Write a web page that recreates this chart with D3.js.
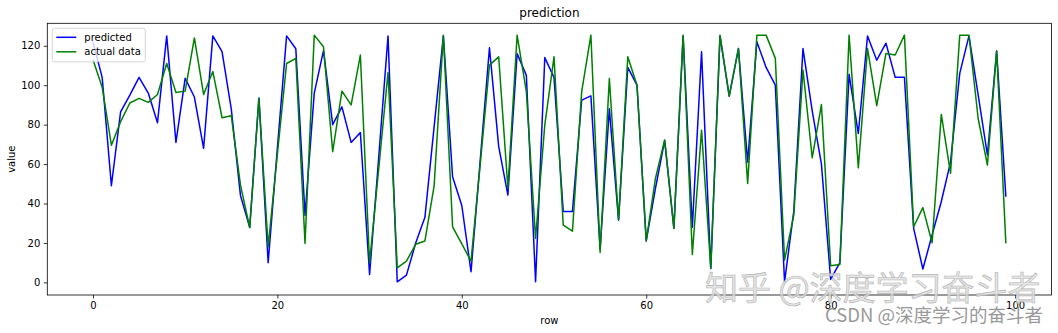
<!DOCTYPE html>
<html>
<head>
<meta charset="utf-8">
<script src="https://cdn.jsdelivr.net/npm/d3@7"></script>
<style>
  body { margin: 0; background: #fff; }
  text { font-family: "DejaVu Sans", sans-serif; }
</style>
</head>
<body>
<div id="chart"></div>
<script>
// values, one per row 0..99
var predicted = [122, 104, 49, 86.5, 95, 104, 96, 81, 125, 71,
    103.5, 94, 68, 125, 117, 88, 44, 28, 93.5, 10,
    68, 125, 118.5, 34, 96, 117.5, 80, 89, 71, 76,
    4, 64, 125, 0.3, 3.7, 20, 33, 79, 125, 53.6,
    39, 5.4, 62, 119, 69, 44.3, 116, 105, 0.3, 114,
    104, 36, 36, 92.4, 94.6, 17, 88, 31.6, 109, 100,
    21, 47.7, 72, 27.4, 125, 28, 117, 7, 125, 94.5,
    118.6, 61, 122, 109, 100, 0.3, 36, 118.6, 87, 60,
    1.5, 10, 105.5, 75.5, 125, 112.7, 121.3, 104, 104, 27.4,
    6.8, 24, 41, 61, 106, 125, 95, 64.6, 117.3, 43.4];

var actual = [113, 99, 69.6, 81.5, 91, 93.3, 91.3, 95.3, 111, 96.3,
    97, 124, 95.3, 107, 83.5, 84.5, 49.3, 27.7, 93.3, 18,
    65, 111, 113.6, 19.8, 125.4, 119.5, 66.3, 97, 90, 115.3,
    10, 58, 106.5, 7.4, 10.8, 19.3, 21, 49, 125.4, 28.2,
    19.5, 10.8, 60, 110.2, 114.4, 47.7, 125.4, 96.7, 22.3, 79.8,
    114.4, 29, 26, 96.7, 125.4, 15.2, 103.4, 31.6, 114.4, 100,
    21, 52.7, 72.2, 27.4, 125.4, 14.2, 77.2, 7.1, 125.4, 94.5,
    118.6, 50.2, 125.4, 125.4, 113.6, 11.3, 34, 107.7, 63.2, 90.2,
    8.4, 9.1, 125.4, 58.1, 118.6, 89.6, 116.1, 115.3, 125.4, 28.2,
    37.9, 20.1, 85.2, 55.3, 125.4, 125.4, 83, 59.5, 117.3, 19.8];

var xTicks = [0, 20, 40, 60, 80, 100];
var yTicks = [0, 20, 40, 60, 80, 100, 120];

var series = [
    {name: "predicted", color: "blue", values: predicted},
    {name: "actual data", color: "green", values: actual}
];

var width = 1058, height = 333;
var plotLeft = 47.3, plotRight = 1051.5, plotTop = 23.3, plotBottom = 295;

var svg = d3.select("#chart")
    .append("svg")
    .attr("width", width)
    .attr("height", height);

var xScale = d3.scaleLinear()
    .domain([-4.95, 103.95])
    .range([plotLeft, plotRight]);

var yScale = d3.scaleLinear()
    .domain([-6.4, 131.4])
    .range([plotBottom, plotTop]);

/* lines */
var line = d3.line()
    .x((d, i) => xScale(i))
    .y(d => yScale(d));

svg.append("g")
    .selectAll("path")
    .data(series)
    .join("path")
    .attr("d", d => line(d.values))
    .attr("fill", "none")
    .attr("stroke", d => d.color)
    .attr("stroke-width", 1.5)
    .attr("stroke-linejoin", "round");

/* axes */
var xAxis = d3.axisBottom(xScale)
    .tickValues(xTicks)
    .tickSize(3.5)
    .tickPadding(3.5)
    .tickFormat(d3.format("d"));
svg.append("g")
    .attr("class", "xAxis")
    .attr("transform", `translate(0, ${plotBottom})`)
    .call(xAxis)
    .call(g => g.select(".domain").remove())
    .selectAll("text")
    .style("font-size", "10px")
    .attr("fill", "#000");

var yAxis = d3.axisLeft(yScale)
    .tickValues(yTicks)
    .tickSize(3.5)
    .tickPadding(3.5)
    .tickFormat(d3.format("d"));
svg.append("g")
    .attr("class", "yAxis")
    .attr("transform", `translate(${plotLeft}, 0)`)
    .call(yAxis)
    .call(g => g.select(".domain").remove())
    .selectAll("text")
    .style("font-size", "10px")
    .attr("fill", "#000");

svg.selectAll(".tick line").attr("stroke", "#000").attr("stroke-width", 0.8);

// frame
svg.append("rect")
    .attr("x", plotLeft)
    .attr("y", plotTop)
    .attr("width", plotRight - plotLeft)
    .attr("height", plotBottom - plotTop)
    .attr("fill", "none")
    .attr("stroke", "#000")
    .attr("stroke-width", 0.8);

/* labels */
svg.append("text")
    .attr("x", (plotLeft + plotRight) / 2)
    .attr("y", 17)
    .attr("text-anchor", "middle")
    .style("font-size", "12px")
    .text("prediction");

svg.append("text")
    .attr("x", (plotLeft + plotRight) / 2)
    .attr("y", 324)
    .attr("text-anchor", "middle")
    .style("font-size", "10px")
    .text("row");

svg.append("text")
    .attr("transform", `translate(15, ${(plotTop + plotBottom) / 2}) rotate(-90)`)
    .attr("text-anchor", "middle")
    .style("font-size", "10px")
    .text("value");

/* legend */
var legend = svg.append("g")
    .attr("transform", `translate(${plotLeft + 5}, ${plotTop + 5})`);

legend.append("rect")
    .attr("width", 93)
    .attr("height", 33.5)
    .attr("rx", 2)
    .attr("fill", "#fff")
    .attr("fill-opacity", 0.8)
    .attr("stroke", "#ccc")
    .attr("stroke-width", 0.8);

var items = legend.selectAll(".item")
    .data(series)
    .join("g")
    .attr("class", "item")
    .attr("transform", (d, i) => `translate(0, ${9 + i * 14.5})`);

items.append("line")
    .attr("x1", 4)
    .attr("x2", 24)
    .attr("stroke", d => d.color)
    .attr("stroke-width", 1.5);

items.append("text")
    .attr("x", 32)
    .attr("y", 3.5)
    .style("font-size", "10px")
    .text(d => d.name);

/* watermarks */
svg.append("text")
    .attr("x", 705)
    .attr("y", 300)
    .style("font-family", "'Noto Sans CJK SC', sans-serif")
    .style("font-size", "33px")
    .attr("fill", "#ddd")
    .attr("fill-opacity", 0.8)
    .attr("stroke", "#b5b5b5")
    .attr("stroke-width", 0.6)
    .text("知乎 @深度学习奋斗者");

svg.append("text")
    .attr("x", 1043)
    .attr("y", 322)
    .attr("text-anchor", "end")
    .style("font-family", "'Noto Sans CJK SC', sans-serif")
    .style("font-size", "18.5px")
    .attr("fill", "#999")
    .text("CSDN @深度学习的奋斗者");
</script>
</body>
</html>
